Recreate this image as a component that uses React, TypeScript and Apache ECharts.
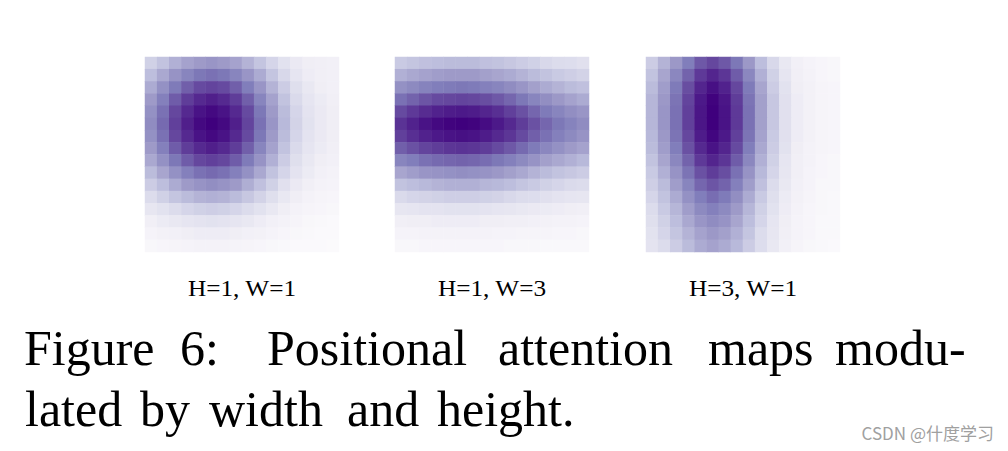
import React, { useEffect, useRef } from "react";
import * as echarts from "echarts";

// Cell ids along each side of a map (16 x 16 cells)
const CELL_IDS = ["0", "1", "2", "3", "4", "5", "6", "7", "8", "9", "10", "11", "12", "13", "14", "15"];

const PANEL_LABELS = ["H=1, W=1", "H=1, W=3", "H=3, W=1"];

// Attention intensity (0..100), rows top -> bottom, columns left -> right
const MAP_H1_W1: number[][] = [
  [29, 35, 42, 47, 50, 52, 50, 47, 41, 34, 27, 20, 15, 12, 11, 10],
  [37, 45, 53, 59, 64, 66, 64, 59, 52, 44, 34, 26, 18, 13, 11, 10],
  [44, 54, 63, 71, 77, 79, 77, 71, 62, 52, 41, 31, 22, 16, 12, 10],
  [50, 61, 72, 81, 87, 90, 87, 81, 71, 59, 47, 35, 25, 18, 14, 11],
  [54, 66, 78, 87, 94, 97, 94, 87, 77, 64, 50, 38, 27, 19, 15, 12],
  [56, 68, 80, 90, 97, 100, 97, 90, 79, 66, 52, 39, 28, 20, 15, 12],
  [54, 66, 78, 87, 94, 97, 94, 87, 77, 64, 50, 38, 27, 19, 15, 12],
  [50, 61, 72, 81, 87, 90, 87, 81, 71, 59, 47, 35, 25, 18, 14, 11],
  [45, 54, 64, 72, 78, 80, 78, 72, 63, 53, 42, 31, 22, 16, 12, 10],
  [38, 46, 54, 61, 66, 68, 66, 61, 54, 45, 35, 27, 19, 14, 10, 8],
  [31, 37, 44, 50, 53, 55, 53, 50, 43, 36, 29, 21, 15, 11, 8, 7],
  [24, 29, 34, 38, 41, 42, 41, 38, 33, 28, 22, 16, 12, 8, 6, 5],
  [17, 20, 24, 27, 29, 30, 29, 27, 24, 20, 16, 12, 8, 6, 5, 4],
  [11, 14, 16, 18, 19, 20, 19, 18, 16, 13, 10, 8, 6, 4, 3, 2],
  [7, 9, 10, 12, 13, 13, 13, 12, 10, 9, 7, 5, 4, 3, 2, 2],
  [4, 5, 6, 7, 8, 8, 8, 7, 6, 5, 4, 3, 2, 2, 2, 1],
];

const MAP_H1_W3: number[][] = [
  [32, 34, 36, 37, 38, 38, 38, 36, 35, 33, 31, 29, 26, 24, 23, 21],
  [42, 45, 47, 49, 50, 50, 50, 48, 46, 44, 41, 38, 35, 32, 30, 28],
  [54, 57, 60, 62, 63, 64, 63, 61, 59, 56, 52, 48, 44, 41, 38, 36],
  [66, 70, 74, 77, 78, 79, 78, 76, 73, 69, 64, 59, 55, 51, 47, 44],
  [77, 82, 86, 89, 91, 92, 91, 88, 85, 80, 75, 69, 63, 59, 55, 52],
  [84, 89, 94, 97, 99, 100, 99, 96, 92, 87, 81, 75, 69, 64, 60, 56],
  [80, 85, 89, 92, 94, 95, 94, 91, 87, 83, 77, 71, 66, 61, 57, 53],
  [71, 75, 79, 81, 83, 84, 83, 81, 77, 73, 68, 63, 58, 54, 50, 47],
  [59, 62, 66, 68, 69, 70, 69, 67, 64, 61, 57, 53, 48, 45, 42, 39],
  [46, 49, 52, 53, 54, 55, 54, 53, 51, 48, 45, 41, 38, 35, 33, 31],
  [35, 37, 39, 41, 42, 42, 42, 40, 39, 37, 34, 32, 29, 27, 25, 24],
  [25, 27, 28, 29, 30, 30, 30, 29, 28, 26, 24, 23, 21, 19, 18, 17],
  [17, 18, 19, 19, 20, 20, 20, 19, 18, 17, 16, 15, 14, 13, 12, 11],
  [11, 12, 12, 13, 13, 13, 13, 12, 12, 11, 11, 10, 9, 8, 8, 7],
  [7, 7, 8, 8, 8, 8, 8, 8, 7, 7, 6, 6, 6, 5, 5, 4],
  [4, 4, 5, 5, 5, 5, 5, 5, 5, 4, 4, 4, 3, 3, 3, 3],
];

const MAP_H3_W1: number[][] = [
  [31, 41, 51, 62, 73, 78, 73, 64, 51, 37, 26, 16, 10, 7, 5, 4],
  [35, 46, 58, 70, 82, 88, 83, 72, 58, 42, 29, 18, 11, 8, 5, 4],
  [38, 49, 63, 76, 88, 95, 89, 78, 63, 46, 31, 20, 12, 9, 6, 5],
  [40, 51, 65, 79, 92, 99, 93, 81, 65, 48, 33, 21, 13, 9, 6, 5],
  [40, 52, 66, 80, 93, 100, 94, 82, 66, 48, 33, 21, 13, 9, 6, 5],
  [40, 52, 66, 80, 93, 100, 94, 82, 66, 48, 33, 21, 13, 9, 6, 5],
  [39, 51, 65, 78, 91, 98, 92, 80, 65, 47, 32, 21, 13, 9, 6, 5],
  [38, 49, 62, 75, 87, 94, 88, 77, 62, 45, 31, 20, 12, 8, 6, 5],
  [35, 46, 58, 70, 82, 88, 83, 72, 58, 42, 29, 18, 11, 8, 5, 4],
  [32, 42, 53, 65, 75, 81, 76, 66, 53, 39, 27, 17, 11, 7, 5, 4],
  [30, 38, 49, 59, 69, 74, 70, 61, 49, 36, 24, 16, 10, 7, 4, 4],
  [27, 35, 44, 54, 62, 67, 63, 55, 44, 32, 22, 14, 9, 6, 4, 3],
  [24, 32, 40, 49, 57, 61, 57, 50, 40, 29, 20, 13, 8, 5, 4, 3],
  [22, 29, 37, 45, 52, 56, 53, 46, 37, 27, 18, 12, 7, 5, 3, 3],
  [20, 27, 34, 41, 47, 51, 48, 42, 34, 24, 17, 11, 7, 5, 3, 3],
  [19, 24, 31, 38, 44, 47, 44, 39, 31, 23, 16, 10, 6, 4, 3, 2],
];

const CAPTION_LINE_1 = ["Figure", "6:", "Positional", "attention", "maps", "modu-"];
const CAPTION_LINE_2 = ["lated", "by", "width", "and", "height."];
const WATERMARK = "CSDN @什度学习";

const MAPS = [MAP_H1_W1, MAP_H1_W3, MAP_H3_W1];

const PURPLES = ["#fcfbfd", "#efedf5", "#dadaeb", "#bcbddc", "#9e9ac8", "#807dba", "#6a51a3", "#54278f", "#3f007d"];

const GRID_LEFTS = [145, 395, 646];
const LINE1_X = [24, 180, 267, 498, 708, 835];
const LINE2_X = [25, 140, 209, 347, 437];

function toCells(m: number[][]) {
  const out: [number, number, number][] = [];
  m.forEach((row, r) => row.forEach((v, c) => out.push([c, r, v])));
  return out;
}

export default function App() {
  const ref = useRef<HTMLDivElement>(null);
  useEffect(() => {
    document.body.style.margin = "0";
    document.body.style.overflow = "hidden";
    const chart = echarts.init(ref.current!, null, { renderer: "svg" });
    const serif = "'Liberation Serif', 'Times New Roman', serif";
    const graphic: any[] = [];
    PANEL_LABELS.forEach((t, i) => {
      graphic.push({
        type: "text",
        x: GRID_LEFTS[i] + 97,
        y: 288,
        scaleX: 1.1,
        style: { text: t, font: `23px ${serif}`, fill: "#000", align: "center", verticalAlign: "middle" },
      });
    });
    CAPTION_LINE_1.forEach((w, i) => {
      graphic.push({
        type: "text",
        x: LINE1_X[i],
        y: 348,
        style: { text: w, font: `50px ${serif}`, fill: "#000", align: "left", verticalAlign: "middle" },
      });
    });
    CAPTION_LINE_2.forEach((w, i) => {
      graphic.push({
        type: "text",
        x: LINE2_X[i],
        y: 409,
        style: { text: w, font: `50px ${serif}`, fill: "#000", align: "left", verticalAlign: "middle" },
      });
    });
    graphic.push({
      type: "text",
      x: 994,
      y: 432,
      style: { text: WATERMARK, font: "17px 'Noto Sans CJK SC', 'Noto Sans', sans-serif", fill: "#a0a0a0", align: "right", verticalAlign: "middle" },
    });

    chart.setOption({
      animation: false,
      backgroundColor: "#ffffff",
      grid: GRID_LEFTS.map((left) => ({ left, top: 57, width: 194, height: 195, containLabel: false })),
      xAxis: GRID_LEFTS.map((_, i) => ({ type: "category", gridIndex: i, data: CELL_IDS, show: false })),
      yAxis: GRID_LEFTS.map((_, i) => ({ type: "category", gridIndex: i, data: CELL_IDS, inverse: true, show: false })),
      visualMap: {
        show: false,
        min: 0,
        max: 100,
        seriesIndex: [0, 1, 2],
        inRange: { color: PURPLES },
      },
      series: MAPS.map((m, i) => ({
        type: "heatmap",
        xAxisIndex: i,
        yAxisIndex: i,
        data: toCells(m),
        itemStyle: { borderWidth: 0 },
        emphasis: { disabled: true },
      })),
      graphic,
    });
    return () => chart.dispose();
  }, []);
  return <div ref={ref} style={{ width: 1008, height: 451 }} />;
}
